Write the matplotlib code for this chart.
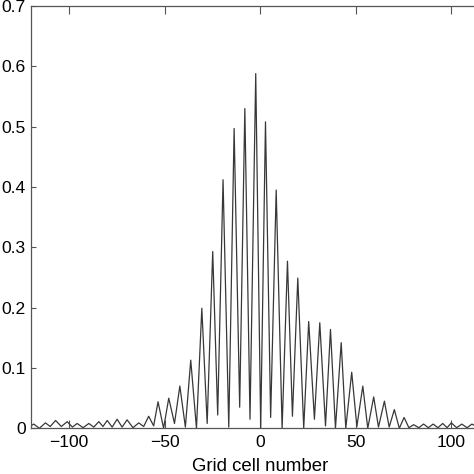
import matplotlib
matplotlib.use("Agg")
import matplotlib.pyplot as plt

# Extrema of the curve (grid cell, amplitude), left to right
cell = [
    -120.0, -118.4, -115.5, -112.3, -109.8, -107.0, -104.0, -100.9, -98.2, -95.7,
    -92.6, -89.6, -87.0, -84.4, -82.2, -80.0, -77.4, -74.8, -72.2, -69.6,
    -66.5, -63.5, -60.9, -58.3, -55.7, -53.4, -50.5, -47.8, -44.8, -42.0,
    -39.1, -36.3, -33.3, -30.5, -27.7, -24.8, -22.2, -19.4, -16.4, -13.6,
    -10.7, -8.0, -5.3, -2.3, 0.3, 2.8, 5.5, 8.4, 11.5, 14.3,
    16.9, 19.7, 22.8, 25.4, 28.4, 31.2, 34.2, 36.8, 39.4, 42.4,
    44.8, 47.9, 50.6, 53.7, 56.3, 59.4, 61.9, 65.0, 67.5, 70.2,
    72.8, 75.3, 77.8, 80.3, 83.0, 85.5, 88.0, 90.5, 93.0, 95.5,
    97.8, 100.0, 102.8, 105.5, 108.2, 110.8, 113.0,
]
amplitude = [
    0.004, 0.007, 0.000, 0.009, 0.003, 0.013, 0.003, 0.011, 0.002, 0.008,
    0.001, 0.008, 0.002, 0.011, 0.003, 0.013, 0.002, 0.015, 0.002, 0.014,
    0.001, 0.009, 0.003, 0.020, 0.004, 0.044, 0.000, 0.050, 0.008, 0.070,
    0.002, 0.113, 0.000, 0.199, 0.008, 0.293, 0.022, 0.412, 0.002, 0.497,
    0.035, 0.530, 0.015, 0.588, 0.000, 0.508, 0.018, 0.395, 0.000, 0.277,
    0.020, 0.249, 0.000, 0.177, 0.015, 0.175, 0.004, 0.164, 0.000, 0.142,
    0.000, 0.093, 0.003, 0.070, 0.000, 0.052, 0.002, 0.045, 0.002, 0.031,
    0.000, 0.018, 0.001, 0.006, 0.001, 0.007, 0.001, 0.007, 0.001, 0.008,
    0.001, 0.009, 0.001, 0.007, 0.001, 0.007, 0.003,
]

x_ticks = [-100, -50, 0, 50, 100]
y_ticks = [0, 0.1, 0.2, 0.3, 0.4, 0.5, 0.6, 0.7]
y_tick_labels = ["0", "0.1", "0.2", "0.3", "0.4", "0.5", "0.6", "0.7"]
x_label = "Grid cell number"

plt.rcParams['font.family'] = ['Liberation Sans', 'DejaVu Sans']

fig = plt.figure(figsize=(4.74, 4.74), dpi=100)
ax = fig.add_axes([0.0648, 0.0964, 0.968, 0.8909])

ax.plot(cell, amplitude, color='#383838', lw=0.9)

ax.set_xlim(-120, 120)
ax.set_ylim(0, 0.7)
ax.set_xticks(x_ticks)
ax.set_yticks(y_ticks)
ax.set_yticklabels(y_tick_labels)

frame_color = '#555555'
for s in ax.spines.values():
    s.set_color(frame_color)
    s.set_linewidth(0.9)

ax.tick_params(axis='x', direction='in', length=5.5, width=0.8, color=frame_color,
               top=True, bottom=True, labelsize=12.6, pad=5)
ax.tick_params(axis='y', direction='in', length=3.5, width=0.8, color=frame_color,
               left=True, right=True, labelsize=12.6, pad=3.5)

ax.set_xlabel(x_label, fontsize=13.4, labelpad=5.5)

fig.savefig("out.png", dpi=100)
